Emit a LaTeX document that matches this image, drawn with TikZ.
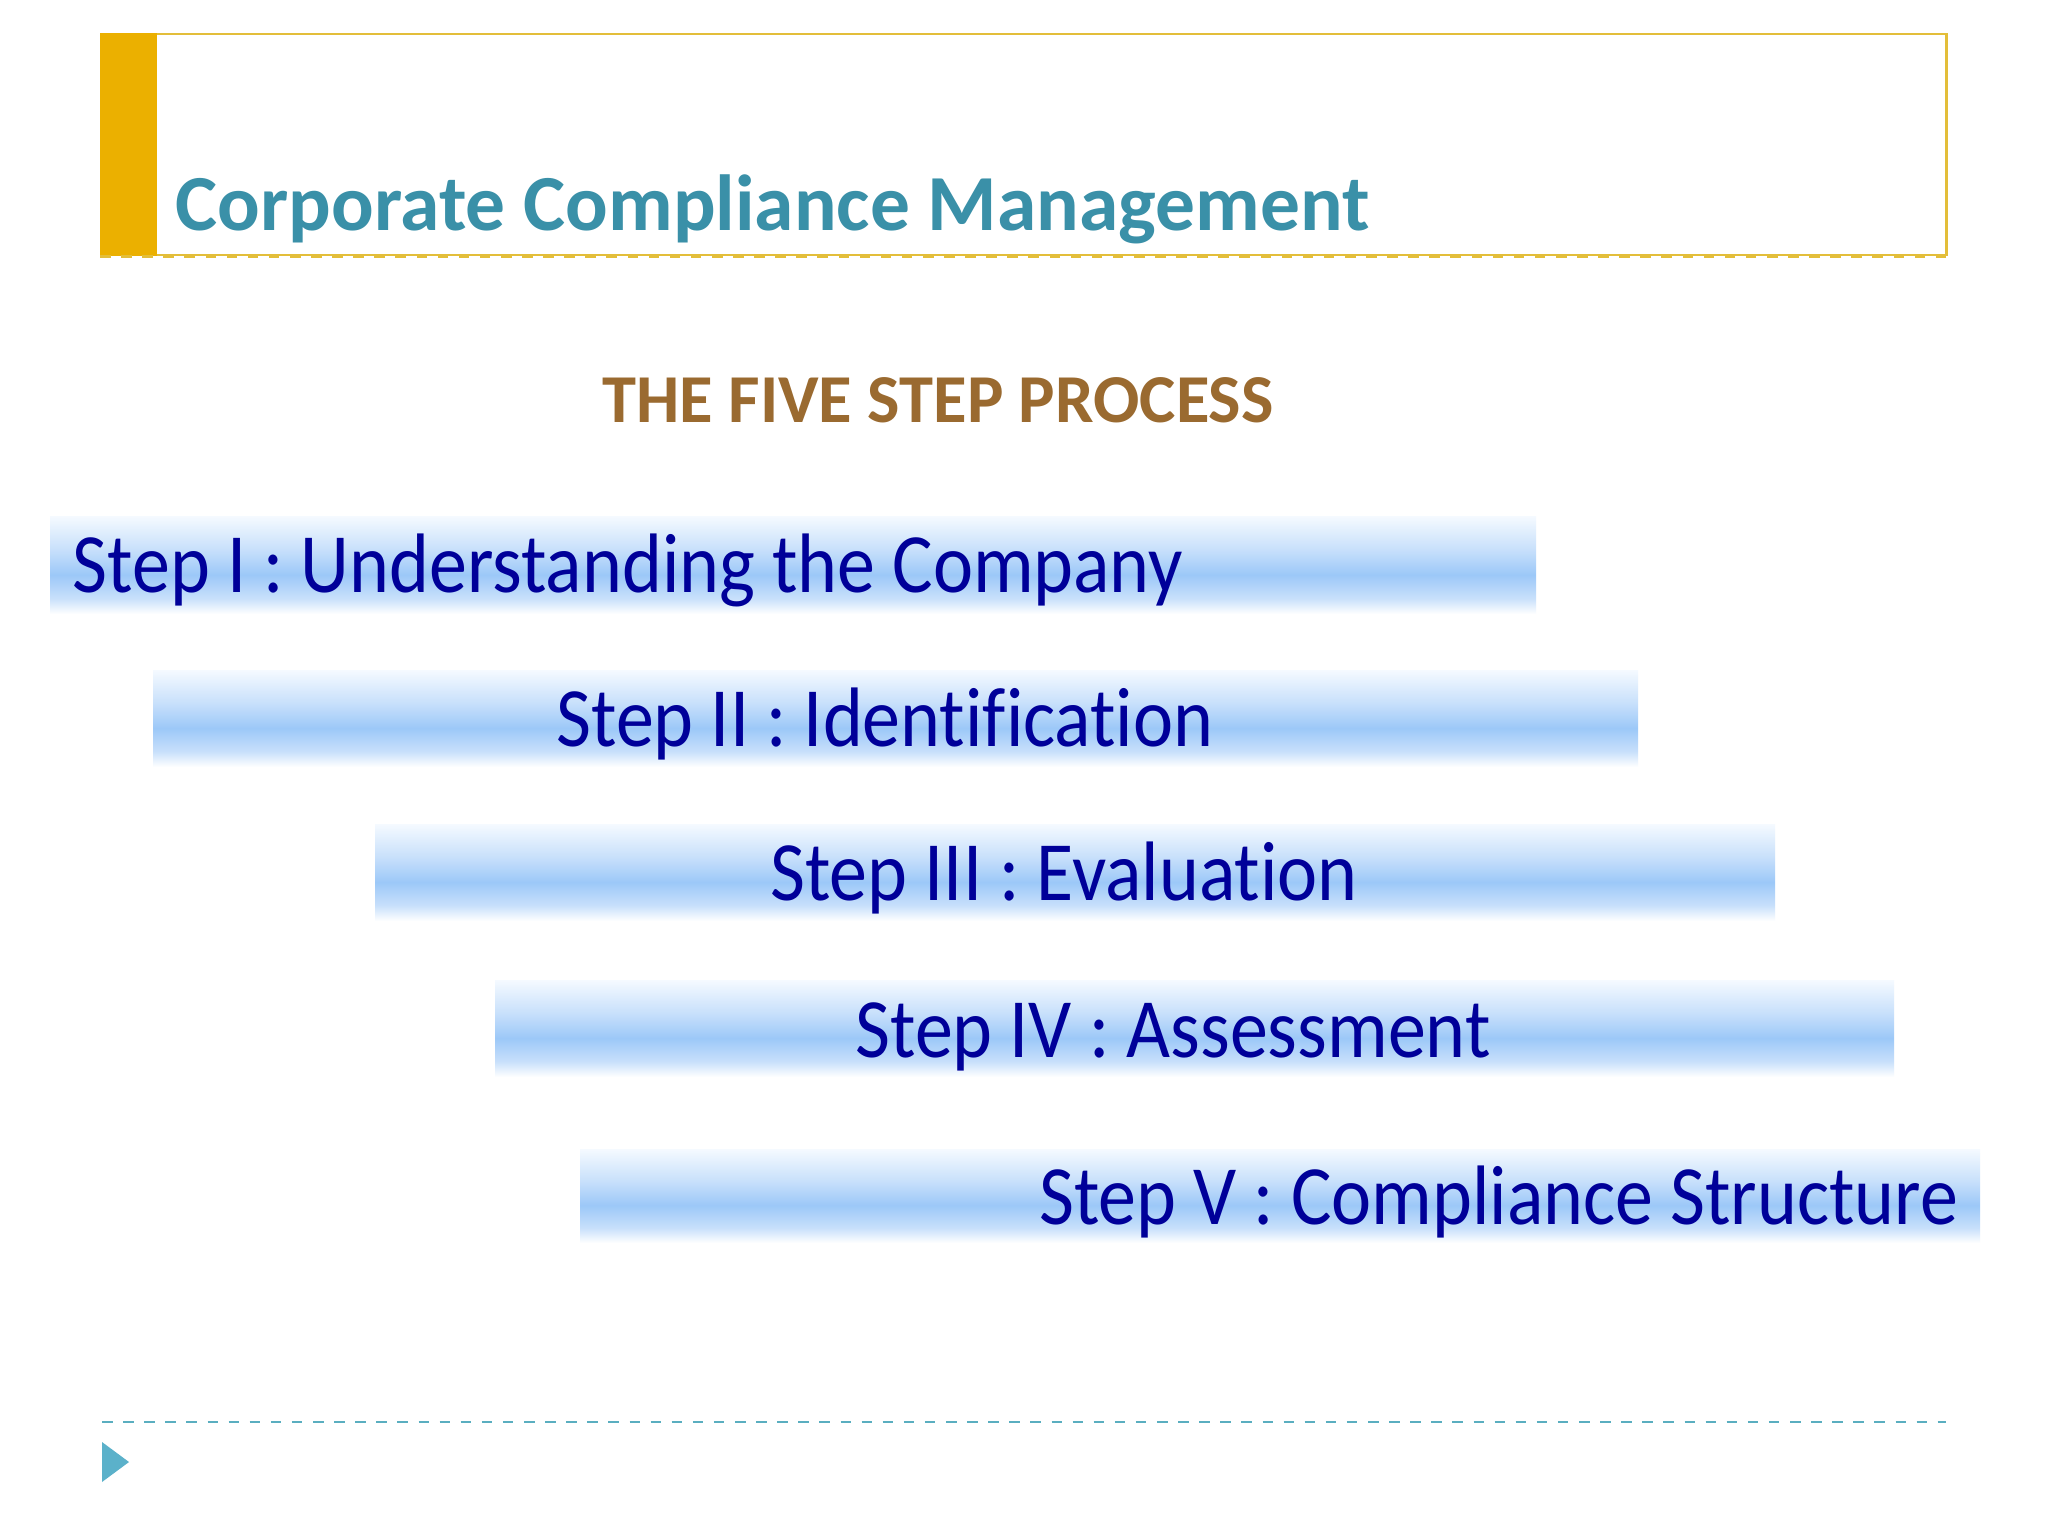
\documentclass[tikz,border=0pt]{standalone}
\usepackage{fontspec}
\setmainfont{Carlito}
\newfontfamily\stepfont[FakeStretch=0.9, Ligatures=NoCommon]{Carlito}
\definecolor{titleteal}{HTML}{3A90A8}
\definecolor{brownhd}{HTML}{9A6A30}
\definecolor{navy}{HTML}{000099}
\definecolor{goldline}{HTML}{E3BE3A}
\definecolor{orangebar}{HTML}{EBB000}
\definecolor{dashteal}{HTML}{5AAEC0}
\definecolor{tritealc}{HTML}{5BB1CA}
\definecolor{bla}{HTML}{F5FAFF}
\definecolor{blb}{HTML}{C8E0FB}
\definecolor{blc}{HTML}{9CC8F8}
\pgfdeclareverticalshading{barshade}{100bp}{color(0bp)=(white); color(25bp)=(white); color(33bp)=(blb); color(45bp)=(blc); color(58bp)=(blb); color(75bp)=(bla); color(100bp)=(bla)}
\tikzset{
  stepbar/.style={shading=barshade, draw=none},
  steptext/.style={font=\stepfont\fontsize{24}{28}\selectfont, text=navy, inner sep=0pt, anchor=base},
}
\begin{document}
\begin{tikzpicture}[x=0.01cm,y=-0.01cm]
\useasboundingbox (0,0) rectangle (2048,1536);
\fill[white] (0,0) rectangle (2048,1536);
% header
\node[draw=goldline, line width=0.8pt, inner sep=0pt, fill=white, minimum width=18.44cm, minimum height=2.21cm] (hdr) at (1024,144.5) {};
\fill[orangebar] (hdr.north west) rectangle ([xshift=0.57cm]hdr.south west);
\draw[goldline, dashed, line width=1pt] (hdr.south west) -- (hdr.south east);
\node[anchor=base west, inner sep=0pt, text=titleteal, font=\bfseries\fontsize{22.6}{27}\selectfont] (title) at (175,230) {Corporate Compliance Management};
\node[anchor=base, inner sep=0pt, text=brownhd, font=\bfseries\fontsize{19.5}{23}\selectfont] (sub) at (938,422) {THE FIVE STEP PROCESS};
% bars
\shade[stepbar] (50,516) rectangle (1536,614);
\shade[stepbar] (153,670) rectangle (1638,767);
\shade[stepbar] (375,824) rectangle (1775,921);
\shade[stepbar] (495,980) rectangle (1894,1077);
\shade[stepbar] (580,1149) rectangle (1980,1243);
\node[steptext, anchor=base west] (s1) at (72,592) {Step I : Understanding the Company};
\node[steptext] (s2) at (885,746) {Step II : Identification};
\node[steptext] (s3) at (1064,900) {Step III : Evaluation};
\node[steptext] (s4) at (1173,1057) {Step IV : Assessment};
\node[steptext, anchor=base east] (s5) at (1959,1224) {Step V : Compliance Structure};
% footer
\coordinate (fl) at (102,1422);
\coordinate (fr) at (1946,1422);
\draw[dashteal, dashed, line width=0.8pt] (fl) -- (fr);
\fill[tritealc] (102,1442) -- (129,1462) -- (102,1482) -- cycle;
\end{tikzpicture}
\end{document}
